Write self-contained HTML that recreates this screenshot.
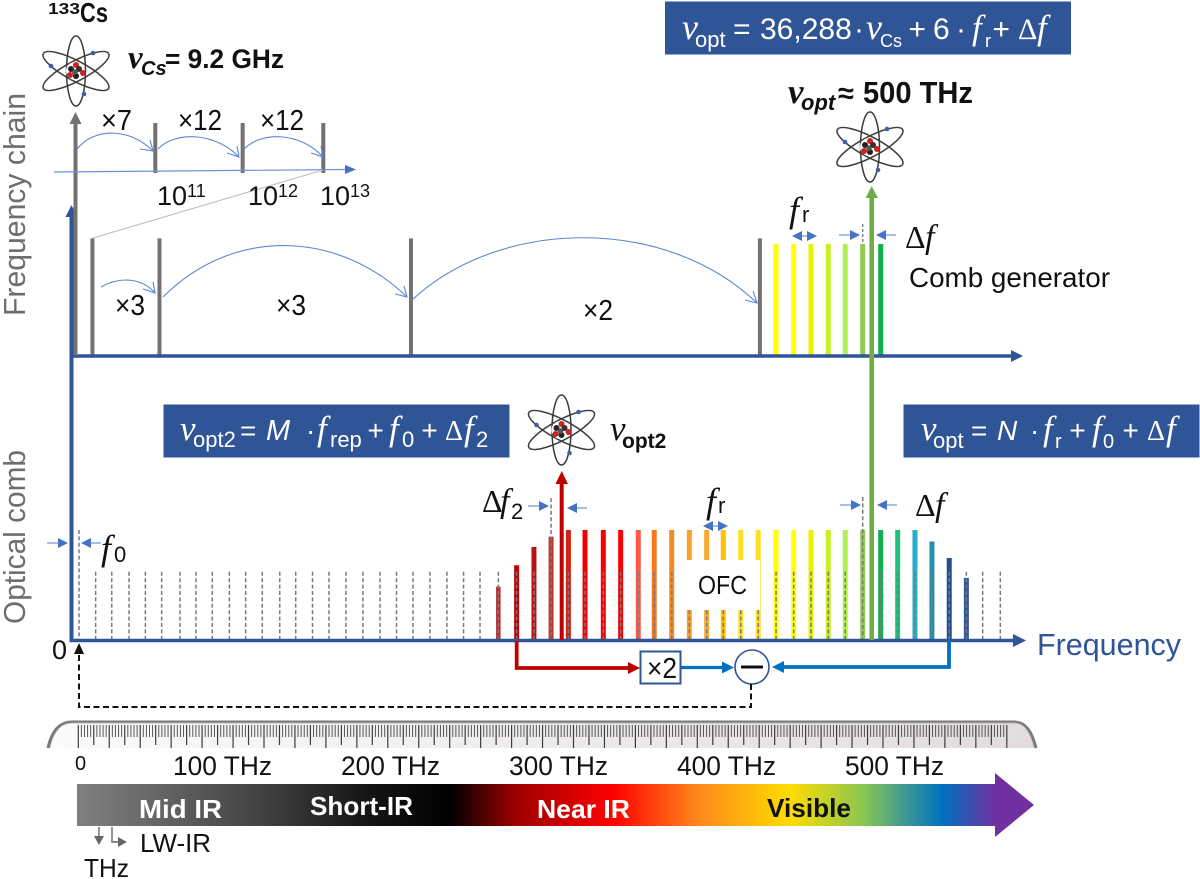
<!DOCTYPE html>
<html lang="en">
<head>
<meta charset="utf-8">
<title>Optical frequency comb and frequency chain</title>
<style>
html,body{margin:0;padding:0;background:#fff;width:1200px;height:879px;overflow:hidden}
svg{display:block}
text{font-family:"Liberation Sans","DejaVu Sans",sans-serif;fill:#111}
.ser{font-family:"Liberation Serif",serif;font-style:italic}
.w,.w tspan{fill:#fff}
.it{font-style:italic}
.b{font-weight:bold}
</style>
</head>
<body>
<svg id="chart" xmlns="http://www.w3.org/2000/svg" width="1200" height="879" viewBox="0 0 1200 879">
<defs>
<linearGradient id="spec" x1="77" x2="1034" y1="0" y2="0" gradientUnits="userSpaceOnUse">
<stop offset="0" stop-color="#808080"/><stop offset="0.07" stop-color="#6a6a6a"/><stop offset="0.2" stop-color="#3f3f3f"/><stop offset="0.3" stop-color="#161616"/><stop offset="0.39" stop-color="#000"/>
<stop offset="0.46" stop-color="#a00000"/><stop offset="0.56" stop-color="#ff0000"/><stop offset="0.65" stop-color="#ff8a1c"/><stop offset="0.745" stop-color="#ffdc00"/><stop offset="0.82" stop-color="#8cc84e"/><stop offset="0.875" stop-color="#2f8fa0"/><stop offset="0.905" stop-color="#0070c0"/><stop offset="0.96" stop-color="#7030a0"/><stop offset="1" stop-color="#7030a0"/>
</linearGradient>
<linearGradient id="rulerFill" x1="48" x2="1036" y1="0" y2="0" gradientUnits="userSpaceOnUse">
<stop offset="0" stop-color="#fbfbfb"/><stop offset="1" stop-color="#e2dcdd"/>
</linearGradient>
<g id="atom">
<g fill="none" stroke="#3c3c3c" stroke-width="1.5">
<ellipse rx="9.5" ry="35"/>
<ellipse rx="37" ry="10" transform="rotate(28)"/>
<ellipse rx="37" ry="10" transform="rotate(-28)"/>
</g>
<circle cx="-1" cy="0" r="9" fill="#fff"/>
<circle cx="0" cy="-6" r="3" fill="#d02020"/><circle cx="-6" cy="4" r="3" fill="#d02020"/><circle cx="7" cy="2" r="3" fill="#d02020"/>
<circle cx="-5" cy="-2" r="3" fill="#222"/><circle cx="3" cy="-2" r="3" fill="#333"/><circle cx="0" cy="5" r="3" fill="#222"/><circle cx="-1" cy="1" r="2.8" fill="#555"/>
<circle cx="17" cy="-18" r="2.3" fill="#3f5fa8"/><circle cx="-25" cy="-5" r="2.3" fill="#3f5fa8"/><circle cx="8" cy="23" r="2.3" fill="#3f5fa8"/>
</g>
</defs>

<!-- ruler -->
<g id="ruler">
<path d="M48 748C52 730 60 722 72 722H1014C1026 722 1032 732 1036 748Z" fill="url(#rulerFill)"/>
<path d="M48 748C52 730 60 722 72 722H1014C1026 722 1032 732 1036 748" fill="none" stroke="#7a7a7a" stroke-width="3"/>
<path d="M50 748C54 731 61 723 72 723H1014C1025 723 1030 733 1034 748" fill="none" stroke="#c8c8c8" stroke-width="0.8"/>
</g>
<g>
<text x="75" y="770" font-size="20">0</text>
<text x="173" y="775" font-size="27" textLength="99" lengthAdjust="spacingAndGlyphs">100 THz</text>
<text x="341" y="775" font-size="27" textLength="99" lengthAdjust="spacingAndGlyphs">200 THz</text>
<text x="509" y="775" font-size="27" textLength="99" lengthAdjust="spacingAndGlyphs">300 THz</text>
<text x="677" y="775" font-size="27" textLength="99" lengthAdjust="spacingAndGlyphs">400 THz</text>
<text x="845" y="775" font-size="27" textLength="99" lengthAdjust="spacingAndGlyphs">500 THz</text>
</g>

<!-- spectrum -->
<g>
<path d="M77 784H995V773L1034 805L995 837V826H77Z" fill="url(#spec)"/>
<text class="b w" x="139" y="818" font-size="26" textLength="83" lengthAdjust="spacingAndGlyphs">Mid IR</text>
<text class="b w" x="310" y="815" font-size="26" textLength="103" lengthAdjust="spacingAndGlyphs">Short-IR</text>
<text class="b w" x="537" y="818" font-size="26" textLength="93" lengthAdjust="spacingAndGlyphs">Near IR</text>
<text class="b" x="767" y="817" font-size="26" textLength="84" lengthAdjust="spacingAndGlyphs" fill="#000">Visible</text>
</g>
<g>
<path d="M99 827V840" stroke="#666" stroke-width="1.4" fill="none"/>
<polygon points="94,836 104,836 99,845" fill="#666"/>
<path d="M112 827V842H120" stroke="#666" stroke-width="1.4" fill="none"/>
<polygon points="118,837 127,842 118,847" fill="#666"/>
<text x="140" y="852" font-size="26" textLength="71" lengthAdjust="spacingAndGlyphs">LW-IR</text>
<text x="84" y="877" font-size="26" textLength="45" lengthAdjust="spacingAndGlyphs">THz</text>
</g>

<!-- axis titles -->
<text transform="translate(25 316) rotate(-90)" font-size="31" textLength="223" lengthAdjust="spacingAndGlyphs" style="fill:#6e6e6e">Frequency chain</text>
<text transform="translate(25 624) rotate(-90)" font-size="31" textLength="174" lengthAdjust="spacingAndGlyphs" style="fill:#6e6e6e">Optical comb</text>

<g id="marks"></g>

<!-- axes -->
<g>
<path d="M71.5 642V216" stroke="#2f5597" stroke-width="4" fill="none"/>
<polygon points="65.5,217 71.5,205 77.5,217" fill="#2f5597"/>
<path d="M70 356H1012" stroke="#2f5597" stroke-width="3.4" fill="none"/>
<polygon points="1011,350 1023,356 1011,362" fill="#2f5597"/>
<path d="M70 640.5H1014" stroke="#2f5597" stroke-width="3.6" fill="none"/>
<polygon points="1013,634 1026,640.5 1013,647" fill="#2f5597"/>
<path d="M75.5 354V122" stroke="#767171" stroke-width="4" fill="none"/>
<polygon points="69.5,124 75.5,112 81.5,124" fill="#767171"/>
<path d="M54 172L346 169.5" stroke="#6f92d6" stroke-width="1.2" fill="none"/>
<polygon points="345,165 356,169.5 345,174" fill="#4472c4"/>
<path d="M93 238L323 170" stroke="#bdbdbd" stroke-width="1.1" fill="none"/>
</g>

<!-- chain arcs -->
<g fill="none" stroke="#5b86d3" stroke-width="1.1">
<path d="M77 149C95 127 130 128 153 151M140 149L153 151L150 140"/>
<path d="M158 149C175 131 215 132 239 157M227 153L239 157L237 146"/>
<path d="M244 149C262 131 300 132 323 157M311 153L323 157L321 146"/>
<path d="M101 287C120 276 142 278 155 293M143 289L155 293L153 282"/>
<path d="M163 297C235 225 340 232 407 297M395 294L407 297L404 286"/>
<path d="M412 300C500 218 665 215 757 303M745 300L757 303L753 291"/>
</g>
<g>
<text x="101" y="130" font-size="29" textLength="31" lengthAdjust="spacingAndGlyphs">×7</text>
<text x="178" y="130" font-size="29" textLength="44" lengthAdjust="spacingAndGlyphs">×12</text>
<text x="260" y="130" font-size="29" textLength="44" lengthAdjust="spacingAndGlyphs">×12</text>
<text x="157" y="205" font-size="27">10<tspan font-size="18" y="197">11</tspan></text>
<text x="248" y="205" font-size="27">10<tspan font-size="18" y="197">12</tspan></text>
<text x="320" y="205" font-size="27">10<tspan font-size="18" y="197">13</tspan></text>
<text x="115" y="315" font-size="29" textLength="30" lengthAdjust="spacingAndGlyphs">×3</text>
<text x="276" y="315" font-size="29" textLength="30" lengthAdjust="spacingAndGlyphs">×3</text>
<text x="583" y="320" font-size="29" textLength="30" lengthAdjust="spacingAndGlyphs">×2</text>
<text x="909" y="287" font-size="28" textLength="201" lengthAdjust="spacingAndGlyphs">Comb generator</text>
</g>

<!-- vertical mode arrows -->
<g>
<path d="M561.7 640V484" stroke="#c00000" stroke-width="4" fill="none"/>
<polygon points="555.5,484 561.7,471 568,484" fill="#c00000"/>
<path d="M871.7 640V198" stroke="#70ad47" stroke-width="4.6" fill="none"/>
<polygon points="865.5,198 871.7,186 878,198" fill="#70ad47"/>
</g>

<!-- feedback -->
<g>
<path d="M516.7 641V668H630" stroke="#c00000" stroke-width="3.8" fill="none"/>
<polygon points="628,662 640,668 628,674" fill="#c00000"/>
<rect x="640.5" y="651.5" width="40" height="32" fill="#fff" stroke="#2f5597" stroke-width="2"/>
<text x="647" y="678" font-size="29" textLength="30" lengthAdjust="spacingAndGlyphs">×2</text>
<path d="M681 667.5H724" stroke="#0070c0" stroke-width="3.2" fill="none"/>
<polygon points="722,661.5 734,667.5 722,673.5" fill="#0070c0"/>
<path d="M949 641V667H782" stroke="#0070c0" stroke-width="3.8" fill="none"/>
<polygon points="784,661 772,667 784,673" fill="#0070c0"/>
<circle cx="752" cy="667" r="17" fill="#fff" stroke="#2f5597" stroke-width="1.6"/>
<path d="M741 667H763" stroke="#111" stroke-width="3" fill="none"/>
<path d="M751 684V707H79V654" stroke="#111" stroke-width="2" stroke-dasharray="6 3.5" fill="none"/>
<polygon points="74,654 79,643 84,654" fill="#111"/>
</g>

<!-- small measurement arrows -->
<g stroke="#6f92d6" stroke-width="1.2" fill="#4472c4">
<path d="M839 235H852"/><polygon stroke="none" points="850,230 860,235 850,240"/>
<path d="M896 235H884"/><polygon stroke="none" points="886,230 876,235 886,240"/>
<path d="M800 236H810"/><polygon stroke="none" points="802,231 792,236 802,241"/><polygon stroke="none" points="807,231 817,236 807,241"/>
<path d="M528 506H541"/><polygon stroke="none" points="539,501 549,506 539,511"/>
<path d="M587 508H575"/><polygon stroke="none" points="577,503 567,508 577,513"/>
<path d="M712 526H720"/><polygon stroke="none" points="713,521 703,526 713,531"/><polygon stroke="none" points="718,521 728,526 718,531"/>
<path d="M840 505H853"/><polygon stroke="none" points="851,500 861,505 851,510"/>
<path d="M897 505H885"/><polygon stroke="none" points="887,500 877,505 887,510"/>
<path d="M47 543H60"/><polygon stroke="none" points="58,538 68,543 58,548"/>
<path d="M101 543H89"/><polygon stroke="none" points="91,538 81,543 91,548"/>
</g>

<!-- symbol labels -->
<g>
<text y="222" font-size="36"><tspan class="ser" x="789">f</tspan><tspan x="802" font-size="22">r</tspan></text>
<text y="248" font-size="34"><tspan x="905" font-family="Liberation Serif" font-size="32">Δ</tspan><tspan class="ser" x="925">f</tspan></text>
<text y="513" font-size="36"><tspan class="ser" x="706">f</tspan><tspan x="718" font-size="22">r</tspan></text>
<text y="516" font-size="34"><tspan x="915" font-family="Liberation Serif" font-size="32">Δ</tspan><tspan class="ser" x="935">f</tspan></text>
<text y="512" font-size="34"><tspan x="482" font-family="Liberation Serif" font-size="32">Δ</tspan><tspan class="ser" x="500">f</tspan><tspan x="511" y="519" font-size="22">2</tspan></text>
<text y="560" font-size="36"><tspan class="ser" x="101">f</tspan><tspan x="114" y="562" font-size="22">0</tspan></text>
<text x="52" y="659" font-size="27">0</text>
<text x="1037" y="655" font-size="31" textLength="144" lengthAdjust="spacingAndGlyphs" style="fill:#2f5597">Frequency</text>
<rect x="677" y="560" width="84" height="50" fill="#fff"/>
<path d="M760.5 560V610" stroke="#ffe566" stroke-width="1" fill="none"/>
<text x="698" y="594" font-size="26" textLength="49" lengthAdjust="spacingAndGlyphs">OFC</text>
</g>

<!-- atoms & headings -->
<use href="#atom" x="76" y="71"/>
<use href="#atom" x="870" y="147"/>
<use href="#atom" x="561.5" y="430"/>
<g>
<text class="b" x="48" y="14" font-size="16" textLength="32" lengthAdjust="spacingAndGlyphs">133</text>
<text class="b" x="80" y="22" font-size="28" textLength="28" lengthAdjust="spacingAndGlyphs">Cs</text>
</g>
<g>
<text class="b" y="68" font-size="25"><tspan class="ser b" x="128" font-size="33">ν</tspan><tspan class="it" x="141" y="75" font-size="20">Cs</tspan></text>
<text class="b" x="165" y="68" font-size="27" textLength="119" lengthAdjust="spacingAndGlyphs">= 9.2 GHz</text>
</g>
<g>
<text class="b" y="103" font-size="29"><tspan class="ser b" x="788" font-size="35">ν</tspan><tspan class="it" x="801" y="110" font-size="22">opt</tspan><tspan x="838" y="103">≈</tspan></text>
<text class="b" x="863" y="103" font-size="31" textLength="110" lengthAdjust="spacingAndGlyphs">500 THz</text>
</g>
<text y="440" font-size="35"><tspan class="ser" x="610">ν</tspan><tspan class="b" x="622" y="448" font-size="21">opt2</tspan></text>

<!-- equation boxes -->
<g>
<rect x="665" y="1.5" width="406" height="53" fill="#2f5597"/>
<text class="w" y="39" font-size="30"><tspan class="ser" x="682" font-size="36">ν</tspan><tspan x="695" y="47" font-size="22">opt</tspan><tspan x="733" y="39">=</tspan><tspan x="760">36,288</tspan><tspan x="854">·</tspan><tspan class="ser" x="866" font-size="36">ν</tspan><tspan x="880" y="47" font-size="18">Cs</tspan><tspan x="908" y="39" class="it">+</tspan><tspan x="933">6</tspan><tspan x="956">·</tspan><tspan class="ser" x="972" font-size="35">f</tspan><tspan x="985" y="47" font-size="18">r</tspan><tspan x="992" y="39" class="it">+</tspan><tspan x="1018" font-family="Liberation Serif">Δ</tspan><tspan class="ser" x="1037" font-size="35">f</tspan></text>
</g>
<g>
<rect x="163.5" y="404.5" width="346" height="53" fill="#2f5597"/>
<text class="w" y="440" font-size="28"><tspan class="ser" x="180" font-size="35">ν</tspan><tspan x="193" y="447" font-size="22">opt2</tspan><tspan x="240" y="440">=</tspan><tspan x="266" class="it" font-size="29">M</tspan><tspan x="306">·</tspan><tspan class="ser" x="317" font-size="35">f</tspan><tspan x="330" y="447" font-size="22">rep</tspan><tspan x="367" y="440" class="it">+</tspan><tspan class="ser" x="389" font-size="35">f</tspan><tspan x="402" y="447" font-size="22">0</tspan><tspan x="421" y="440" class="it">+</tspan><tspan x="445" font-family="Liberation Serif">Δ</tspan><tspan class="ser" x="464" font-size="35">f</tspan><tspan x="476" y="447" font-size="22">2</tspan></text>
</g>
<g>
<rect x="903.5" y="404.5" width="296" height="53" fill="#2f5597"/>
<text class="w" y="440" font-size="28"><tspan class="ser" x="921" font-size="35">ν</tspan><tspan x="933" y="448" font-size="22">opt</tspan><tspan x="971" y="440">=</tspan><tspan x="997" class="it">N</tspan><tspan x="1030">·</tspan><tspan class="ser" x="1043" font-size="35">f</tspan><tspan x="1055" y="448" font-size="20">r</tspan><tspan x="1069" y="440" class="it">+</tspan><tspan class="ser" x="1092" font-size="35">f</tspan><tspan x="1103" y="448" font-size="20">0</tspan><tspan x="1122" y="440" class="it">+</tspan><tspan x="1147" font-family="Liberation Serif">Δ</tspan><tspan class="ser" x="1166" font-size="35">f</tspan></text>
</g>
</svg>

<script>
// Optical comb mode frequencies (THz)
const combFrequencies = [0,9.9,19.5,29.8,39.5,49.2,60.1,69.6,79.3,89.5,99.2,109.1,119.5,129.0,139.0,148.8,158.9,169.0,179.2,189.0,198.8,208.9,219.0,228.9,238.7,249.6,260.5,270.8,281.0,291.3,301.2,312.1,322.4,332.9,342.4,352.8,363.3,373.6,383.5,393.9,404.3,414.9,425.4,435.7,446.0,456.1,466.5,477.2,487.3,497.6,507.7,518.0,528.2,537.9,548.4];
// Relative height of each dashed reference tooth
const referenceAmplitudes = [1,.62,.62,.62,.62,.62,.62,.62,.62,.62,.62,.62,.62,.62,.62,.62,.62,.62,.62,.62,.62,.62,.62,.62,.62,.62,.62,.62,1.29,.62,.62,.62,.62,.62,.62,.62,.62,.62,.62,.62,.62,.62,.62,.62,.62,.62,1.3,.62,.62,.62,.62,.62,.62,.62,.62];
// Solid optical comb teeth
const solidFrequencies = [249.6,260.5,270.8,281.0,291.3,301.2,312.1,322.4,332.9,342.4,352.8,363.3,373.6,383.5,393.9,404.3,414.9,425.4,435.7,446.0,456.1,466.5,477.2,487.3,497.6,507.7,518.0,528.2];
const solidAmplitudes = [.485,.68,.845,.94,1,1,1,1,1,1,1,1,1,1,1,1,1,1,1,1,1,1,1,1,1,.895,.745,.565];
// Comb generator teeth in the frequency chain
const generatorFrequencies = [414.9,425.4,435.7,446.0,456.1,466.5,477.2];
const generatorAmplitudes = [1,1,1,1,1,1,1];
// Grey harmonic markers in the frequency chain
const chainFrequencies = [8.0,47.9,197.6,405.3];
const chainAmplitudes = [1.05,1.05,1.05,1.05];
// Log10 of the low-frequency multiplier chain
const logChainValues = [11,12.04,13];

// Style palettes (separate from the values)
const solidPalette = ['#bf2a2a','#c00000','#b81414','#c4382c','#d42010','#f00000','#ff0000','#ff0000','#ff5a48','#f87820','#f58a20','#f9a030','#fbaa30','#ffc000','#ffe020','#ffe020','#ffff00','#ffff00','#e6f000','#c8f020','#b0f050','#8fcb50','#10b050','#20c080','#25b0c8','#2090b0','#20508f','#2f5597'];
const generatorPalette = ['#ffff00','#ffff00','#e6f000','#c8f020','#b0f050','#8fcb50','#10b050'];

const NS = 'http://www.w3.org/2000/svg';
const marks = document.getElementById('marks');
const rulerGroup = document.getElementById('ruler');

const xFreq = f => 79 + f * 1.68;
const yOptical = a => 640 - a * 110;
const yChain = a => 356 - a * 112;
const xLog = v => 155.3 + (v - 11) * 84;

function makeLine(parent, x1, y1, x2, y2, stroke, width) {
  const el = document.createElementNS(NS, 'line');
  el.setAttribute('x1', x1);
  el.setAttribute('y1', y1);
  el.setAttribute('x2', x2);
  el.setAttribute('y2', y2);
  el.setAttribute('stroke', stroke);
  el.setAttribute('stroke-width', width);
  parent.appendChild(el);
  return el;
}

// Ruler ticks
for (let i = 0; i <= 300; i++) {
  const len = i % 10 === 0 ? 748 : (i % 5 === 0 ? 745 : 737);
  const x = 78.3 + i * 3.095;
  const tick = makeLine(rulerGroup, x, 725, x, len, i % 5 === 0 ? '#3c3c3c' : '#555', i % 5 === 0 ? 1.2 : 1);
  
  
}

// Small log chain markers
logChainValues.forEach(v => {
  const m = makeLine(marks, xLog(v), 123, xLog(v), 173, '#767171', 4);
  
  
});

// Harmonic markers
chainFrequencies.forEach((f, i) => {
  const m = makeLine(marks, xFreq(f), yChain(chainAmplitudes[i]), xFreq(f), 355, '#767171', 4);
  
  
});

// Comb generator teeth
generatorFrequencies.forEach((f, i) => {
  const t = makeLine(marks, xFreq(f), yChain(generatorAmplitudes[i]), xFreq(f), 355, generatorPalette[i], 5);
  
  
});
const guide = makeLine(marks, xFreq(466.5), 224, xFreq(466.5), 244, '#777', 1.3);
guide.setAttribute('stroke-dasharray', '3 2');



// Solid optical teeth
solidFrequencies.forEach((f, i) => {
  const t = makeLine(marks, xFreq(f), yOptical(solidAmplitudes[i]), xFreq(f), 639, solidPalette[i], i === 0 ? 4.5 : 5);
  
  
});

// Dashed reference teeth
combFrequencies.forEach((f, i) => {
  const d = makeLine(marks, xFreq(f), yOptical(referenceAmplitudes[i]), xFreq(f), 639, '#7a7a7a', 1.5);
  d.setAttribute('stroke-dasharray', '4 2.4');
  
  
});
</script>
</body>
</html>
